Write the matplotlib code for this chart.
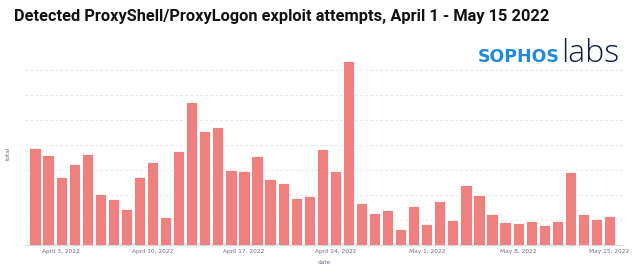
import matplotlib
matplotlib.use("Agg")
import matplotlib.pyplot as plt
import pandas as pd

# daily detections, April 1 - May 15 2022
dates = pd.date_range("2022-04-01", "2022-05-15", freq="D")
totals = [3890, 3590, 2720, 3230, 3630, 2040, 1840, 1450, 2720, 3330,
          1120, 3750, 5710, 4550, 4720, 3010, 2950, 3570, 2650, 2470,
          1890, 1960, 3830, 2960, 7350, 1680, 1280, 1400, 650, 1560,
          850, 1770, 1000, 2390, 2000, 1250, 920, 870, 970, 800,
          970, 2910, 1240, 1050, 1170]
tick_days = ["2022-04-03", "2022-04-10", "2022-04-17", "2022-04-24",
             "2022-05-01", "2022-05-08", "2022-05-15"]
tick_labels = ["April 3, 2022", "April 10, 2022", "April 17, 2022", "April 24, 2022",
               "May 1, 2022", "May 8, 2022", "May 15, 2022"]
grid_levels = [1000, 2000, 3000, 4000, 5000, 6000, 7000]

BAR_COLOR = "#ee8080"
GRAY = "#6b7080"

fig = plt.figure(figsize=(6.35, 2.68), dpi=100)
ax = fig.add_axes([25 / 635, 23 / 268, 598 / 635, 187 / 268])

x = list(range(len(dates)))
ax.bar(x, totals, width=0.86, color=BAR_COLOR, edgecolor="white", linewidth=0.6, zorder=2)

for level in grid_levels:
    ax.axhline(level, color="#e4e4e8", linewidth=0.6, linestyle=(0, (3, 3)), zorder=1)

ax.set_xlim(-0.77, 45.03)
ax.set_ylim(0, 7480)

ticks = [list(dates).index(pd.Timestamp(d)) for d in tick_days]
ax.set_xticks(ticks)
ax.set_xticklabels(tick_labels, fontsize=4.2, color=GRAY)
ax.tick_params(axis="x", length=0, pad=3)
ax.set_yticks([])

for side in ["top", "right", "left"]:
    ax.spines[side].set_visible(False)
ax.spines["bottom"].set_color("#d0d0d6")
ax.spines["bottom"].set_linewidth(0.6)

ax.set_xlabel("date", fontsize=4.2, color=GRAY, labelpad=4)
fig.text(8 / 635, 1 - 153 / 268, "total", rotation=90, fontsize=4.2, color=GRAY,
         ha="center", va="center")

fig.text(14 / 635, 1 - 17 / 268,
         "Detected ProxyShell/ProxyLogon exploit attempts, April 1 - May 15 2022",
         fontsize=11.8, fontweight="bold", family="Roboto", color="#111111",
         ha="left", va="center")

# logo
fig.text(560 / 635, 1 - 62 / 268, "SOPHOS", fontsize=12.5, fontweight="bold",
         family="DejaVu Sans", color="#1f8ae0", ha="right", va="baseline")
fig.text(561 / 635, 1 - 62 / 268, "labs", fontsize=23, fontweight="light",
         family="Open Sans", color="#0e1a3c", ha="left", va="baseline")

fig.savefig("out.png", dpi=100)
